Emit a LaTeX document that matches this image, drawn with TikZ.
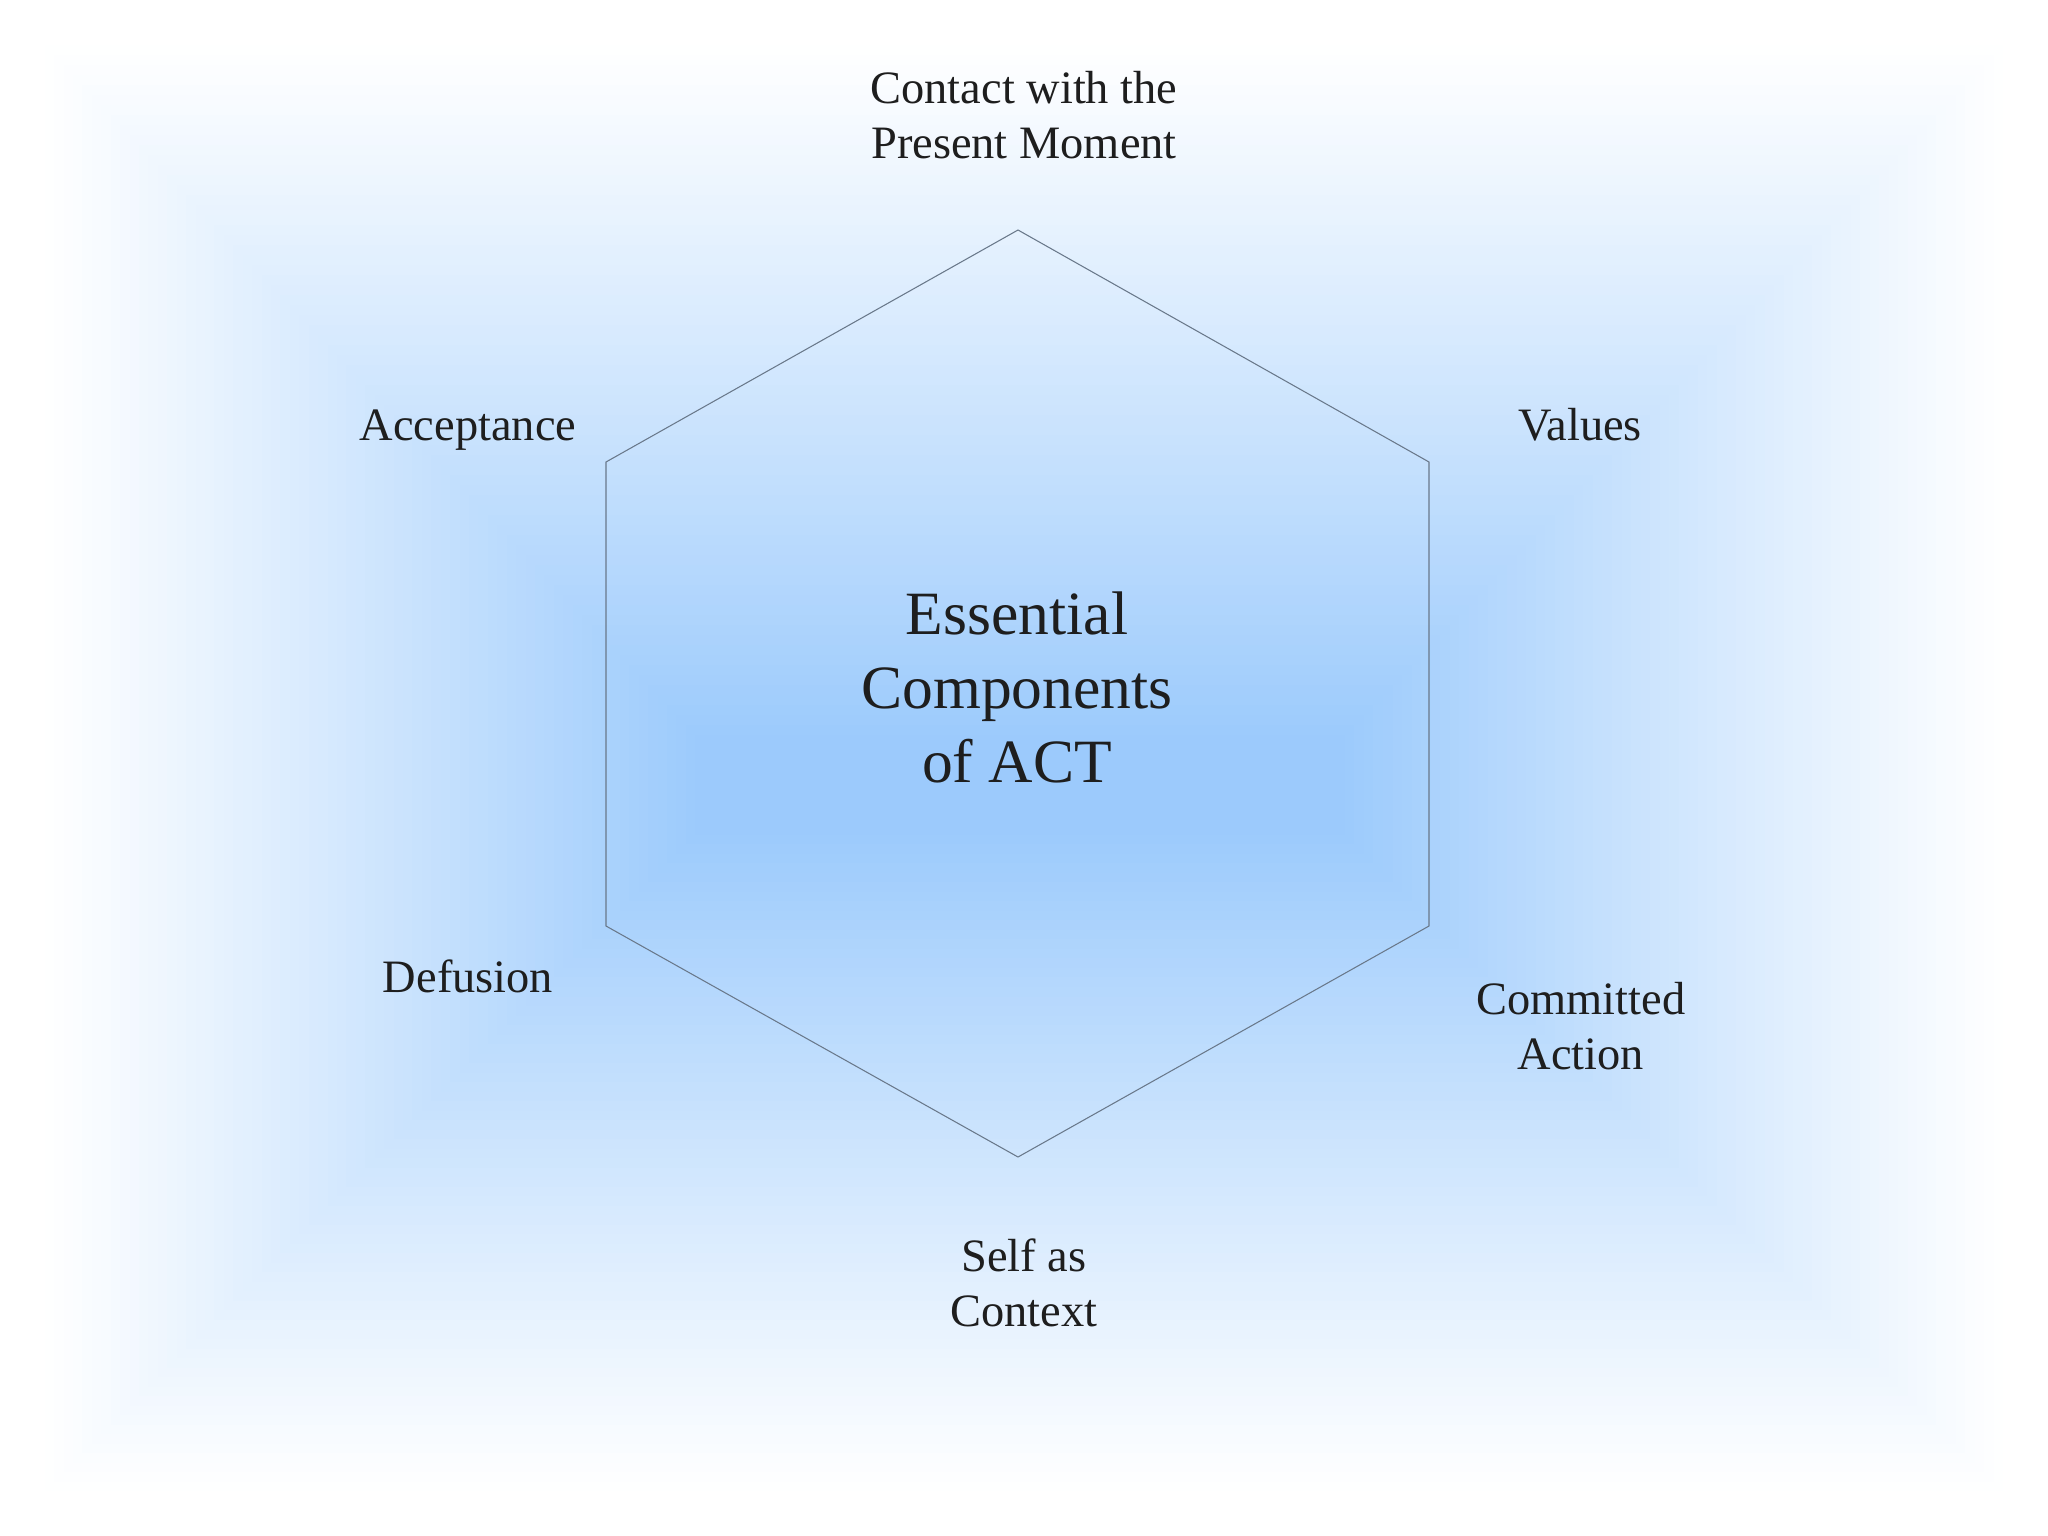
\documentclass[tikz,border=0pt]{standalone}
\usepackage{fontspec}
\setmainfont{Liberation Serif}
\definecolor{actblue}{RGB}{155,202,252}
\definecolor{hexline}{RGB}{105,120,138}
\definecolor{txt}{RGB}{30,30,30}
\begin{document}
\begin{tikzpicture}[x=0.01cm,y=-0.01cm,
  lbl/.style={font=\fontsize{13.2}{15.6}\selectfont, text=txt, align=center, inner sep=0pt, anchor=base},
  ttl/.style={font=\fontsize{17.5}{21}\selectfont, text=txt, align=center, inner sep=0pt, anchor=base},
  hexedge/.style={draw=hexline, line width=0.3pt, line join=miter}]
\useasboundingbox (0,0) rectangle (2048,1536);
\fill[white] (0,0) rectangle (2048,1536);
% soft rectangular blue glow
\foreach \i in {1,...,70}{
  \pgfmathsetmacro\t{(\i-0.5)/70}
  \pgfmathsetmacro\f{100*pow(\t,1.05)}
  \pgfmathsetmacro\xa{40+660*\t}
  \pgfmathsetmacro\xb{2008-668*\t}
  \pgfmathsetmacro\ya{40+700*\t}
  \pgfmathsetmacro\yb{1496-666*\t}
  \fill[actblue!\f!white] (\xa,\ya) rectangle (\xb,\yb);
}
% hexagon
\coordinate (vT) at (1018,230);
\coordinate (vUR) at (1429,462);
\coordinate (vLR) at (1429,926);
\coordinate (vB) at (1018,1157);
\coordinate (vLL) at (606,926);
\coordinate (vUL) at (606,462);
\draw[hexedge] (vT) -- (vUR) -- (vLR) -- (vB) -- (vLL) -- (vUL) -- cycle;
% labels (base = baseline of last line)
\node[ttl] (title) at (1017,782) {Essential\\Components\\of ACT};
\node[lbl] (contact) at (1024,158) {Contact with the\\Present Moment};
\node[lbl] (accept) at (468,440) {Acceptance};
\node[lbl] (values) at (1580,440) {Values};
\node[lbl] (defus) at (468,992) {Defusion};
\node[lbl] (commit) at (1581,1069) {Committed\\Action};
\node[lbl] (self) at (1024,1326) {Self as\\Context};
\end{tikzpicture}
\end{document}
